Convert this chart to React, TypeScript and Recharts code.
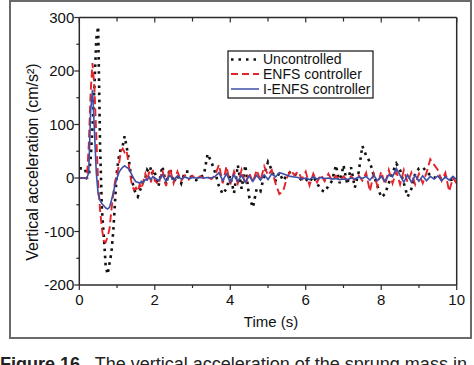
import { LineChart, Line, XAxis, YAxis } from 'recharts';

// time (s)
const times = [
  0, 0.05, 0.1, 0.15, 0.2, 0.25, 0.3, 0.35, 0.4, 0.45, 0.5, 0.55, 0.6, 0.65, 0.7, 0.75, 0.8, 0.85, 0.9, 0.95,
  1, 1.05, 1.1, 1.15, 1.2, 1.25, 1.3, 1.35, 1.4, 1.45, 1.5, 1.55, 1.6, 1.65, 1.7, 1.75, 1.8, 1.85, 1.9, 1.95, 2,
  2.1, 2.2, 2.3, 2.4, 2.5, 2.6, 2.7, 2.8, 2.9, 3,
  3.1, 3.2, 3.3, 3.4, 3.5, 3.6, 3.7, 3.8, 3.9, 4,
  4.1, 4.2, 4.3, 4.4, 4.5, 4.6, 4.7, 4.8, 4.9, 5,
  5.1, 5.2, 5.3, 5.4, 5.5, 5.6, 5.7, 5.8, 5.9, 6,
  6.1, 6.2, 6.3, 6.4, 6.5, 6.6, 6.7, 6.8, 6.9, 7,
  7.1, 7.2, 7.3, 7.4, 7.5, 7.6, 7.7, 7.8, 7.9, 8,
  8.1, 8.2, 8.3, 8.4, 8.5, 8.6, 8.7, 8.8, 8.9, 9,
  9.1, 9.2, 9.3, 9.4, 9.5, 9.6, 9.7, 9.8, 9.9, 10,
];

// vertical acceleration (cm/s^2)
const uncontrolled = [
  18, 18, 18, 18, 0,
  2, 35, 95, 170, 260, 283, 60, -60, -110, -165,
  -180, -160, -140, -100, -40, 15, 40, 55, 60, 78,
  60, 40, 15, -5, -20, -30, -35, -25, -15, -5,
  0, 15, 10, 20, 5, 10,
  -15, 22, -12, 18, -8, 5, -10, 12, 12, -3,
  -4, 2, 5, 45, 30, 10, -15, -30, -20, 5,
  -28, 24, -20, 24, -35, -55, -20, -25, 5, 30,
  15, -5, 10, -5, 5, 12, 8, 3, -5, -2,
  -8, 3, -10, -22, -26, -15, -5, 24, -10, 24,
  -12, 20, -18, 10, 60, 42, 30, 5, -15, -36,
  -30, -10, 10, 27, 15, -10, -35, -20, 8, 18,
  20, 12, 5, 0, 5, -2, 3, -4, -3, -6,
];

const enfs = [
  0, 0, 0, 0, 0,
  60, 160, 215, 170, 80, -10, -60, -95, -118, -120,
  -110, -95, -60, -30, -5, 5, 25, 50, 55, 48,
  52, 30, 5, -15, -22, -18, -25, -12, -20, -5,
  8, -5, 12, -8, 15, -5,
  -12, 15, -15, 18, -10, 12, -5, 5, -3, 4,
  -2, 3, 0, 2, -2, 5, 25, -10, 22, -12,
  12, -10, 15, -12, 10, -8, 15, -5, 22, 5,
  15, -10, -30, -25, 0, 15, 5, 12, -2, 12,
  -14, 8, -8, 6, -6, 8, -5, 4, -4, 3,
  -4, 3, -3, 5, -5, 10, -25, 8, -15, 12,
  -12, 15, -10, 12, -12, 15, -8, 10, -12, 8,
  -10, 10, 35, 25, 15, -5, 10, -25, 0, -10,
];

const iEnfs = [
  0, 0, 0, 0, 0,
  10, 125, 165, 90, 10, -30, -42, -48, -52, -56,
  -58, -55, -42, -28, -12, 0, 10, 16, 20, 23,
  20, 18, 12, 5, -2, -7, -8, -10, -6, -8,
  -3, -4, 2, -3, 3, 0,
  -5, 6, -6, 5, -4, 4, -2, 2, -1, 1,
  0, 1, 0, 1, 0, 3, 10, -5, 8, -8,
  6, -6, 5, -8, 4, -6, 5, -4, 6, -3,
  8, 2, 10, 8, 5, 3, 2, 1, -2, 0,
  -3, 2, -2, 1, -1, 0, -2, -1, -3, -2,
  -3, 0, -2, 2, -1, 3, -4, 5, -5, 3,
  -6, 6, 2, 18, 5, -8, 6, -8, 5, -6,
  4, -5, 3, -2, 4, -5, 2, -4, 3, -3,
];

const xTicks = [0, 1, 2, 3, 4, 5, 6, 7, 8, 9, 10];
const yTicks = [-200, -150, -100, -50, 0, 50, 100, 150, 200, 250, 300];

const seriesNames = ['Uncontrolled', 'ENFS controller', 'I-ENFS controller'];

const data = times.map((t, i) => ({
  t,
  u: uncontrolled[i],
  e: enfs[i],
  ie: iEnfs[i],
}));

const FONT = '"Liberation Sans", Arial, sans-serif';
const AXIS = '#2b2b2b';
const RED = '#e3242b';
const BLUE = '#3c4fa6';

const BottomTick = ({ x, y, payload }: any) => {
  const major = payload.value % 2 === 0;
  return (
    <g>
      <line x1={x} y1={y} x2={x} y2={y + (major ? 5 : 3)} stroke={AXIS} strokeWidth={1.2} />
      {major && (
        <text x={x} y={y + 19.5} textAnchor="middle" fontSize={15} fontFamily={FONT} fill="#111">
          {payload.value}
        </text>
      )}
    </g>
  );
};

const TopTick = ({ x, y, payload }: any) => {
  const major = payload.value % 2 === 0;
  return <line x1={x} y1={y} x2={x} y2={y + (major ? 5 : 4)} stroke={AXIS} strokeWidth={1.2} />;
};

const LeftTick = ({ x, y, payload }: any) => {
  const major = payload.value % 100 === 0;
  return (
    <g>
      <line x1={x - (major ? 5 : 3)} y1={y} x2={x} y2={y} stroke={AXIS} strokeWidth={1.2} />
      {major && (
        <text x={x - 5} y={y} dy="0.36em" textAnchor="end" fontSize={15} fontFamily={FONT} fill="#111">
          {payload.value}
        </text>
      )}
    </g>
  );
};

const RightTick = ({ x, y }: any) => (
  <line x1={x - 5} y1={y} x2={x} y2={y} stroke={AXIS} strokeWidth={1.2} />
);

const YLabel = () => (
  <text
    x={32}
    y={162}
    transform="rotate(-90 32 162)"
    textAnchor="middle"
    dy="0.35em"
    fontSize={16}
    fontFamily={FONT}
    fill="#111"
  >
    Vertical acceleration (cm/s²)
  </text>
);

const XLabel = () => (
  <text x={271} y={322} dy="0.35em" textAnchor="middle" fontSize={15} fontFamily={FONT} fill="#111">
    Time (s)
  </text>
);

const LegendBox = () => (
  <svg width={147} height={49} style={{ position: 'absolute', left: 227, top: 50 }}>
    <rect x={1} y={1} width={145} height={47} fill="#fff" stroke="#111" strokeWidth={1.2} />
    <line x1={4} y1={9.5} x2={32} y2={9.5} stroke="#111" strokeWidth={2.5} strokeDasharray="2.5 5" />
    <line x1={4} y1={24} x2={32} y2={24} stroke={RED} strokeWidth={1.8} strokeDasharray="7 4" />
    <line x1={4} y1={39} x2={32} y2={39} stroke={BLUE} strokeWidth={1.5} />
    {seriesNames.map((name, i) => (
      <text key={name} x={36} y={9.5 + i * 15} dy="0.35em" fontSize={14} fontFamily={FONT} fill="#111">
        {name}
      </text>
    ))}
  </svg>
);

export default function App() {
  return (
    <div
      style={{
        position: 'absolute',
        left: 0,
        top: 0,
        width: 474,
        height: 365,
        overflow: 'hidden',
        background: '#fff',
      }}
    >
      <div
        style={{
          position: 'absolute',
          left: 9,
          top: 0,
          width: 463,
          height: 339,
          border: '2px solid #6a6a6a',
          boxSizing: 'border-box',
        }}
      />
      <div style={{ position: 'absolute', left: 0, top: 0 }}>
        <LineChart
          width={474}
          height={340}
          data={data}
          margin={{ top: 0, right: 0, bottom: 0, left: 0 }}
        >
          <XAxis
            dataKey="t"
            type="number"
            domain={[0, 10]}
            ticks={xTicks}
            interval={0}
            height={55}
            tickSize={0}
            tickMargin={0}
            tickLine={false}
            axisLine={{ stroke: AXIS, strokeWidth: 1.5 }}
            tick={<BottomTick />}
            label={<XLabel />}
          />
          <XAxis
            xAxisId="top"
            orientation="top"
            dataKey="t"
            type="number"
            domain={[0, 10]}
            ticks={xTicks}
            interval={0}
            height={17.5}
            tickSize={0}
            tickMargin={0}
            tickLine={false}
            axisLine={{ stroke: AXIS, strokeWidth: 1.5 }}
            tick={<TopTick />}
          />
          <YAxis
            type="number"
            domain={[-200, 300]}
            ticks={yTicks}
            interval={0}
            width={79.3}
            tickSize={0}
            tickMargin={0}
            tickLine={false}
            axisLine={{ stroke: AXIS, strokeWidth: 1.5 }}
            tick={<LeftTick />}
            label={<YLabel />}
          />
          <YAxis
            yAxisId="right"
            orientation="right"
            type="number"
            domain={[-200, 300]}
            ticks={yTicks}
            interval={0}
            width={17.3}
            tickSize={0}
            tickMargin={0}
            tickLine={false}
            axisLine={{ stroke: AXIS, strokeWidth: 1.5 }}
            tick={<RightTick />}
          />
          <Line
            dataKey="u"
            name={seriesNames[0]}
            type="linear"
            stroke="#111"
            strokeWidth={2.6}
            strokeDasharray="2.6 4.5"
            dot={false}
            isAnimationActive={false}
          />
          <Line
            dataKey="e"
            name={seriesNames[1]}
            type="linear"
            stroke={RED}
            strokeWidth={1.9}
            strokeDasharray="8 4"
            dot={false}
            isAnimationActive={false}
          />
          <Line
            dataKey="ie"
            name={seriesNames[2]}
            type="linear"
            stroke={BLUE}
            strokeWidth={1.6}
            dot={false}
            isAnimationActive={false}
          />
        </LineChart>
      </div>
      <LegendBox />
      <div
        style={{
          position: 'absolute',
          left: 0,
          top: 354,
          fontFamily: FONT,
          fontSize: 18,
          lineHeight: '20px',
          whiteSpace: 'nowrap',
          color: '#222',
        }}
      >
        <b>Figure 16.</b>&nbsp; The vertical acceleration of the sprung mass in
      </div>
    </div>
  );
}
